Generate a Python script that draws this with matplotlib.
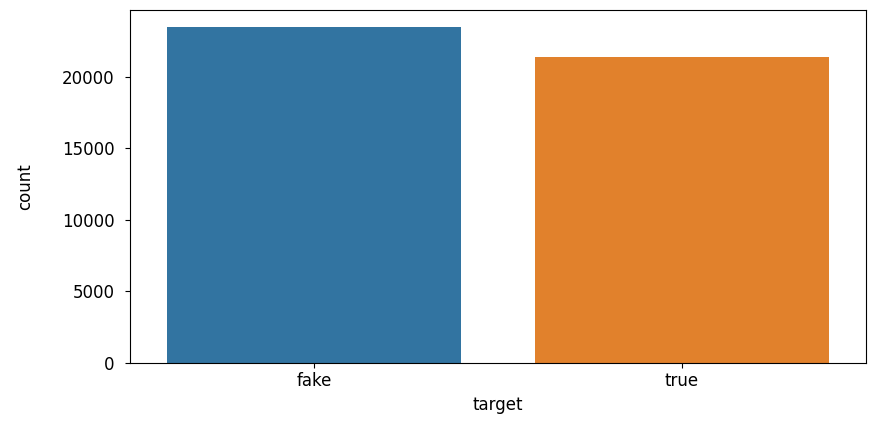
import numpy as np
import matplotlib
matplotlib.use('Agg')
import matplotlib.pyplot as plt

# ===========================
# Data (countplot of target)
categories = ['fake', 'true']
counts = [23481, 21417]
bar_colors = ['#3274a1', '#e1812c']

# ===========================
# Plot
fig = plt.figure(figsize=(8.8, 4.24), dpi=100)
ax = fig.add_axes([0.148, 0.144, 0.836, 0.832])

x = np.arange(len(categories))
ax.bar(x, counts, width=0.8, color=bar_colors)
ax.set_xticks(x)
ax.set_xticklabels(categories, fontsize=12)
ax.set_xlim(-0.5, 1.5)
ax.set_ylim(0, max(counts) * 1.05)
ax.set_yticks([0, 5000, 10000, 15000, 20000])
ax.tick_params(axis='y', labelsize=12, pad=8)
ax.tick_params(axis='x', pad=3)
ax.set_xlabel('target', fontsize=12, labelpad=4)
ax.set_ylabel('count', fontsize=12, labelpad=20)

fig.savefig('out.png', dpi=100)
